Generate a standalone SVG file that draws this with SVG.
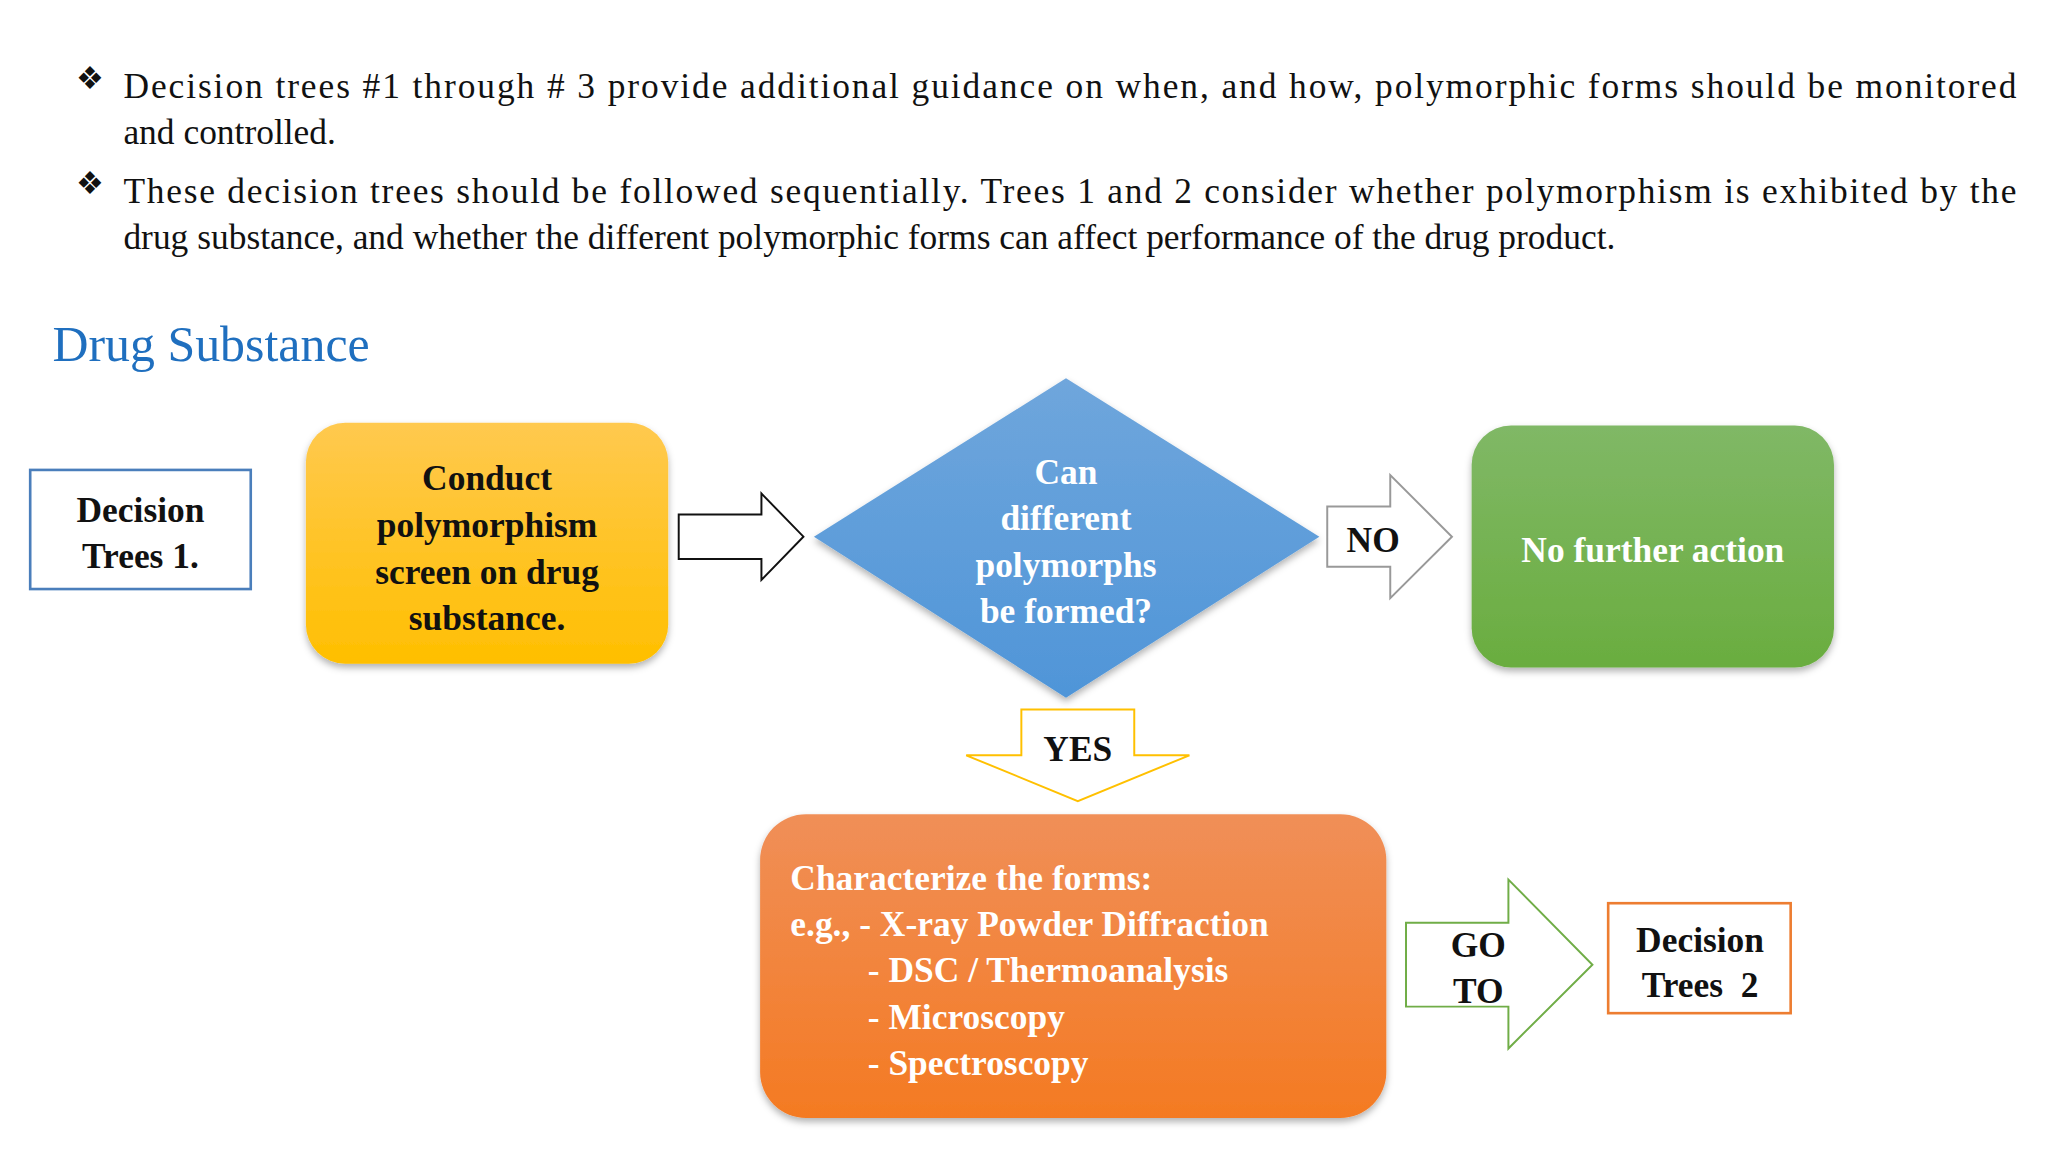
<svg xmlns="http://www.w3.org/2000/svg" width="2048" height="1152" viewBox="0 0 2048 1152">
<defs>
<linearGradient id="gy" x1="0" y1="0" x2="0" y2="1"><stop offset="0" stop-color="#ffc94f"/><stop offset="1" stop-color="#ffbf00"/></linearGradient>
<linearGradient id="gb" x1="0" y1="0" x2="0" y2="1"><stop offset="0" stop-color="#6fa6dc"/><stop offset="1" stop-color="#4f95d8"/></linearGradient>
<linearGradient id="gg" x1="0" y1="0" x2="0" y2="1"><stop offset="0" stop-color="#80b866"/><stop offset="1" stop-color="#6aad3f"/></linearGradient>
<linearGradient id="go" x1="0" y1="0" x2="0" y2="1"><stop offset="0" stop-color="#f08f58"/><stop offset="1" stop-color="#f47a22"/></linearGradient>
<filter id="sh" x="-10%" y="-10%" width="120%" height="125%"><feDropShadow dx="0" dy="3" stdDeviation="3" flood-color="#000" flood-opacity="0.3"/></filter>
</defs>
<style>
text{font-family:"Liberation Serif","Times New Roman",serif}
.body{font-size:27px;fill:#111}
.b{font-weight:bold;font-size:27px;text-anchor:middle}
.w{fill:#fff}
.k{fill:#111}
</style>
<rect width="2048" height="1152" fill="#fff"/>
<g transform="scale(1.3128,1.309)">
<g id="text">
<text x="58" y="68" style="font-size:24px" class="k">❖</text>
<text class="body" x="94" y="75" textLength="1442" lengthAdjust="spacing">Decision trees #1 through # 3 provide additional guidance on when, and how, polymorphic forms should be monitored</text>
<text class="body" x="94" y="110">and controlled.</text>
<text x="58" y="148" style="font-size:24px" class="k">❖</text>
<text class="body" x="94" y="155" textLength="1442" lengthAdjust="spacing">These decision trees should be followed sequentially. Trees 1 and 2 consider whether polymorphism is exhibited by the</text>
<text class="body" x="94" y="190">drug substance, and whether the different polymorphic forms can affect performance of the drug product.</text>
<text x="40" y="276" style="font-size:38px;fill:#1f6fbf">Drug Substance</text>
</g>
<g id="connectors">
<path d="M517,393 H580 V377 L612,410 L580,443 V427 H517 Z" fill="#fff" stroke="#111" stroke-width="1.5"/>
<path d="M1011,387 H1059 V363 L1106,410 L1059,457 V433 H1011 Z" fill="#fff" stroke="#999" stroke-width="1.5"/>
<text class="b k" x="1046" y="422">NO</text>
<path d="M778,542 H864 V577 H906 L821,612 L736,577 H778 Z" fill="#fff" stroke="#ffc000" stroke-width="1.5"/>
<text class="b k" x="821" y="581">YES</text>
<path d="M1071,705 H1149 V672 L1213,737 L1149,801 V769 H1071 Z" fill="#fff" stroke="#70ad47" stroke-width="1.5"/>
<text class="b k" x="1126" y="731">GO</text>
<text class="b k" x="1126" y="766">TO</text>
</g>
<g id="dt1">
<rect x="23" y="359" width="168" height="91" fill="#fff" stroke="#4a7ebb" stroke-width="2"/>
<text class="b k" x="107" y="399">Decision</text>
<text class="b k" x="107" y="434">Trees 1.</text>
</g>
<g id="screen">
<rect x="233" y="323" width="276" height="184" rx="30" fill="url(#gy)" filter="url(#sh)"/>
<text class="b k" x="371" y="374">Conduct</text>
<text class="b k" x="371" y="410">polymorphism</text>
<text class="b k" x="371" y="446">screen on drug</text>
<text class="b k" x="371" y="481">substance.</text>
</g>
<g id="decision">
<path d="M812,289 L1005,410 L812,533 L620,410 Z" fill="url(#gb)" filter="url(#sh)"/>
<text class="b w" x="812" y="370">Can</text>
<text class="b w" x="812" y="405">different</text>
<text class="b w" x="812" y="441">polymorphs</text>
<text class="b w" x="812" y="476">be formed?</text>
</g>
<g id="noaction">
<rect x="1121" y="325" width="276" height="185" rx="30" fill="url(#gg)" filter="url(#sh)"/>
<text class="b w" x="1259" y="429">No further action</text>
</g>
<g id="characterize">
<rect x="579" y="622" width="477" height="232" rx="35" fill="url(#go)" filter="url(#sh)"/>
<g class="w" style="font-weight:bold;font-size:27px">
<text x="602" y="680">Characterize the forms:</text>
<text x="602" y="715">e.g., - X-ray Powder Diffraction</text>
<text x="661" y="750">- DSC / Thermoanalysis</text>
<text x="661" y="786">- Microscopy</text>
<text x="661" y="821">- Spectroscopy</text>
</g>
</g>
<g id="dt2">
<rect x="1225" y="690" width="139" height="84" fill="#fff" stroke="#ed7d31" stroke-width="2"/>
<text class="b k" x="1295" y="727">Decision</text>
<text class="b k" x="1295" y="762" xml:space="preserve">Trees  2</text>
</g>
</g>
</svg>
